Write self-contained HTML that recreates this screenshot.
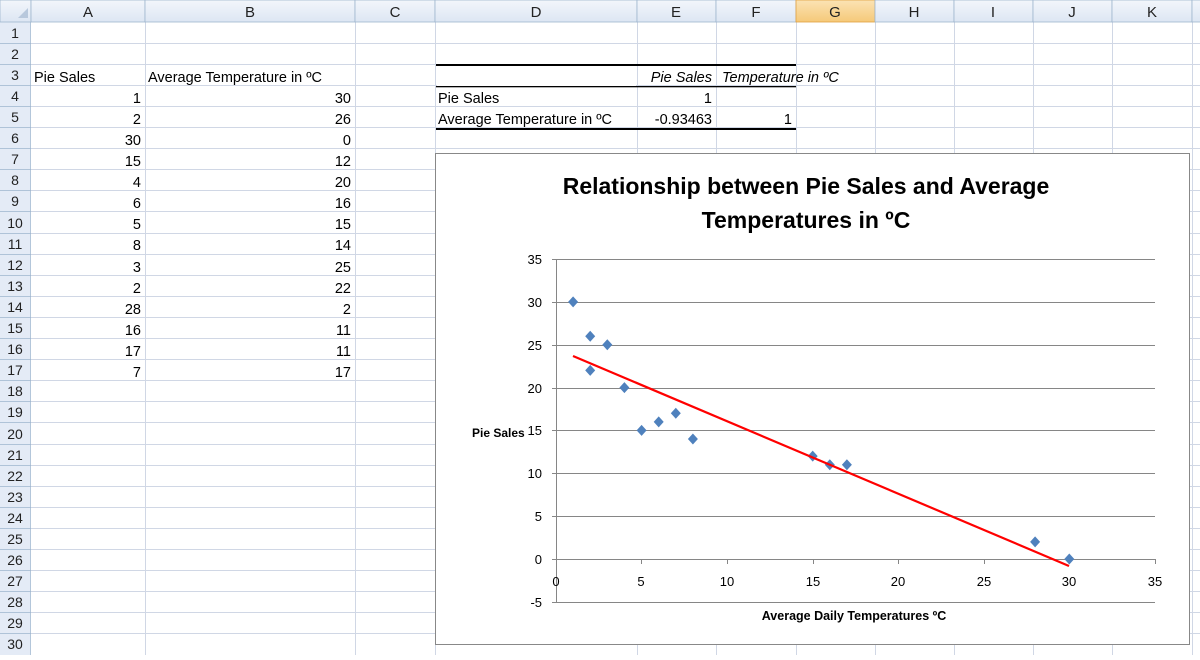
<!DOCTYPE html>
<html><head><meta charset="utf-8"><style>
html,body{margin:0;padding:0;background:#fff;}
svg text{font-family:"Liberation Sans",Arial,sans-serif;}
</style></head><body>
<svg width="1200" height="655" xmlns="http://www.w3.org/2000/svg">
<defs>
<linearGradient id="hg" x1="0" y1="0" x2="0" y2="1"><stop offset="0" stop-color="#f3f6fb"/><stop offset="1" stop-color="#dde6f3"/></linearGradient>
<linearGradient id="og" x1="0" y1="0" x2="0" y2="1"><stop offset="0" stop-color="#fbe3b4"/><stop offset="1" stop-color="#f5c979"/></linearGradient>
</defs>
<rect width="1200" height="655" fill="#fff"/>
<g stroke="#d0d7e5" stroke-width="1">
<line x1="145.5" y1="22" x2="145.5" y2="655"/><line x1="355.5" y1="22" x2="355.5" y2="655"/>
<line x1="435.5" y1="22" x2="435.5" y2="655"/><line x1="637.5" y1="22" x2="637.5" y2="655"/>
<line x1="716.5" y1="22" x2="716.5" y2="655"/><line x1="796.5" y1="22" x2="796.5" y2="655"/>
<line x1="875.5" y1="22" x2="875.5" y2="655"/><line x1="954.5" y1="22" x2="954.5" y2="655"/>
<line x1="1033.5" y1="22" x2="1033.5" y2="655"/><line x1="1112.5" y1="22" x2="1112.5" y2="655"/>
<line x1="1192.5" y1="22" x2="1192.5" y2="655"/>
<line x1="31" y1="43.5" x2="1200" y2="43.5"/><line x1="31" y1="64.5" x2="1200" y2="64.5"/>
<line x1="31" y1="85.5" x2="1200" y2="85.5"/><line x1="31" y1="106.5" x2="1200" y2="106.5"/>
<line x1="31" y1="127.5" x2="1200" y2="127.5"/><line x1="31" y1="148.5" x2="1200" y2="148.5"/>
<line x1="31" y1="169.5" x2="1200" y2="169.5"/><line x1="31" y1="190.5" x2="1200" y2="190.5"/>
<line x1="31" y1="211.5" x2="1200" y2="211.5"/><line x1="31" y1="233.5" x2="1200" y2="233.5"/>
<line x1="31" y1="254.5" x2="1200" y2="254.5"/><line x1="31" y1="275.5" x2="1200" y2="275.5"/>
<line x1="31" y1="296.5" x2="1200" y2="296.5"/><line x1="31" y1="317.5" x2="1200" y2="317.5"/>
<line x1="31" y1="338.5" x2="1200" y2="338.5"/><line x1="31" y1="359.5" x2="1200" y2="359.5"/>
<line x1="31" y1="380.5" x2="1200" y2="380.5"/><line x1="31" y1="401.5" x2="1200" y2="401.5"/>
<line x1="31" y1="422.5" x2="1200" y2="422.5"/><line x1="31" y1="444.5" x2="1200" y2="444.5"/>
<line x1="31" y1="465.5" x2="1200" y2="465.5"/><line x1="31" y1="486.5" x2="1200" y2="486.5"/>
<line x1="31" y1="507.5" x2="1200" y2="507.5"/><line x1="31" y1="528.5" x2="1200" y2="528.5"/>
<line x1="31" y1="549.5" x2="1200" y2="549.5"/><line x1="31" y1="570.5" x2="1200" y2="570.5"/>
<line x1="31" y1="591.5" x2="1200" y2="591.5"/><line x1="31" y1="612.5" x2="1200" y2="612.5"/>
<line x1="31" y1="633.5" x2="1200" y2="633.5"/>
</g>
<!-- row headers -->
<rect x="0" y="22" width="31" height="633" fill="url(#hg)"/>
<rect x="0" y="22" width="31" height="633" fill="#e4ebf6"/>
<g stroke="#9eb6ce" stroke-width="0.7">
<line x1="30.5" y1="22" x2="30.5" y2="655"/>
<line x1="0" y1="43.5" x2="31" y2="43.5"/><line x1="0" y1="64.5" x2="31" y2="64.5"/>
<line x1="0" y1="85.5" x2="31" y2="85.5"/><line x1="0" y1="106.5" x2="31" y2="106.5"/>
<line x1="0" y1="127.5" x2="31" y2="127.5"/><line x1="0" y1="148.5" x2="31" y2="148.5"/>
<line x1="0" y1="169.5" x2="31" y2="169.5"/><line x1="0" y1="190.5" x2="31" y2="190.5"/>
<line x1="0" y1="211.5" x2="31" y2="211.5"/><line x1="0" y1="233.5" x2="31" y2="233.5"/>
<line x1="0" y1="254.5" x2="31" y2="254.5"/><line x1="0" y1="275.5" x2="31" y2="275.5"/>
<line x1="0" y1="296.5" x2="31" y2="296.5"/><line x1="0" y1="317.5" x2="31" y2="317.5"/>
<line x1="0" y1="338.5" x2="31" y2="338.5"/><line x1="0" y1="359.5" x2="31" y2="359.5"/>
<line x1="0" y1="380.5" x2="31" y2="380.5"/><line x1="0" y1="401.5" x2="31" y2="401.5"/>
<line x1="0" y1="422.5" x2="31" y2="422.5"/><line x1="0" y1="444.5" x2="31" y2="444.5"/>
<line x1="0" y1="465.5" x2="31" y2="465.5"/><line x1="0" y1="486.5" x2="31" y2="486.5"/>
<line x1="0" y1="507.5" x2="31" y2="507.5"/><line x1="0" y1="528.5" x2="31" y2="528.5"/>
<line x1="0" y1="549.5" x2="31" y2="549.5"/><line x1="0" y1="570.5" x2="31" y2="570.5"/>
<line x1="0" y1="591.5" x2="31" y2="591.5"/><line x1="0" y1="612.5" x2="31" y2="612.5"/>
<line x1="0" y1="633.5" x2="31" y2="633.5"/>
</g>
<g font-size="14" fill="#222" text-anchor="middle">
<text x="15" y="38">1</text><text x="15" y="59">2</text><text x="15" y="80">3</text>
<text x="15" y="101">4</text><text x="15" y="122">5</text><text x="15" y="143">6</text>
<text x="15" y="164">7</text><text x="15" y="185">8</text><text x="15" y="206">9</text>
<text x="15" y="228">10</text><text x="15" y="249">11</text><text x="15" y="270">12</text>
<text x="15" y="291">13</text><text x="15" y="312">14</text><text x="15" y="333">15</text>
<text x="15" y="354">16</text><text x="15" y="375">17</text><text x="15" y="396">18</text>
<text x="15" y="417">19</text><text x="15" y="439">20</text><text x="15" y="460">21</text>
<text x="15" y="481">22</text><text x="15" y="502">23</text><text x="15" y="523">24</text>
<text x="15" y="544">25</text><text x="15" y="565">26</text><text x="15" y="586">27</text>
<text x="15" y="607">28</text><text x="15" y="628">29</text><text x="15" y="649">30</text>
</g>
<!-- column headers -->
<g stroke="#9eb6ce" stroke-width="0.8">
<rect x="0" y="0" width="31" height="22" fill="url(#hg)"/>
<rect x="31" y="0" width="114" height="22" fill="url(#hg)"/>
<rect x="145" y="0" width="210" height="22" fill="url(#hg)"/>
<rect x="355" y="0" width="80" height="22" fill="url(#hg)"/>
<rect x="435" y="0" width="202" height="22" fill="url(#hg)"/>
<rect x="637" y="0" width="79" height="22" fill="url(#hg)"/>
<rect x="716" y="0" width="80" height="22" fill="url(#hg)"/>
<rect x="796" y="0" width="79" height="22" fill="url(#og)" stroke="#e0a040"/>
<rect x="875" y="0" width="79" height="22" fill="url(#hg)"/>
<rect x="954" y="0" width="79" height="22" fill="url(#hg)"/>
<rect x="1033" y="0" width="79" height="22" fill="url(#hg)"/>
<rect x="1112" y="0" width="80" height="22" fill="url(#hg)"/>
<rect x="1192" y="0" width="10" height="22" fill="url(#hg)"/>
</g>
<polygon points="18,18 28,18 28,8" fill="#b8c8dc"/>
<g font-size="15" fill="#222" text-anchor="middle">
<text x="88" y="17">A</text><text x="250" y="17">B</text><text x="395" y="17">C</text>
<text x="536" y="17">D</text><text x="676" y="17">E</text><text x="756" y="17">F</text>
<text x="835" y="17">G</text><text x="914" y="17">H</text><text x="993" y="17">I</text>
<text x="1072" y="17">J</text><text x="1152" y="17">K</text>
</g>
<!-- data -->
<g font-size="14.5" fill="#000">
<text x="34" y="82">Pie Sales</text>
<text x="148" y="82">Average Temperature in ºC</text>
</g>
<g font-size="14.5" fill="#000" text-anchor="end">
<text x="141" y="103">1</text><text x="351" y="103">30</text>
<text x="141" y="124">2</text><text x="351" y="124">26</text>
<text x="141" y="145">30</text><text x="351" y="145">0</text>
<text x="141" y="166">15</text><text x="351" y="166">12</text>
<text x="141" y="187">4</text><text x="351" y="187">20</text>
<text x="141" y="208">6</text><text x="351" y="208">16</text>
<text x="141" y="229">5</text><text x="351" y="229">15</text>
<text x="141" y="250">8</text><text x="351" y="250">14</text>
<text x="141" y="272">3</text><text x="351" y="272">25</text>
<text x="141" y="293">2</text><text x="351" y="293">22</text>
<text x="141" y="314">28</text><text x="351" y="314">2</text>
<text x="141" y="335">16</text><text x="351" y="335">11</text>
<text x="141" y="356">17</text><text x="351" y="356">11</text>
<text x="141" y="377">7</text><text x="351" y="377">17</text>
</g>
<!-- correlation table -->
<rect x="436" y="64" width="360" height="2" fill="#000"/>
<rect x="436" y="86" width="360" height="1.3" fill="#000"/>
<rect x="436" y="128" width="360" height="2" fill="#000"/>
<rect x="437" y="67" width="199" height="19" fill="#fff"/>
<g font-size="14.5" fill="#000">
<text x="712" y="82" text-anchor="end" font-style="italic">Pie Sales</text>
<text x="722" y="82" font-style="italic">Temperature in ºC</text>
<text x="438" y="103">Pie Sales</text>
<text x="438" y="124">Average Temperature in ºC</text>
<text x="712" y="103" text-anchor="end">1</text>
<text x="712" y="124" text-anchor="end">-0.93463</text>
<text x="792" y="124" text-anchor="end">1</text>
</g>
<!-- chart -->
<rect x="435.5" y="153.5" width="754" height="491" fill="#fff" stroke="#888" stroke-width="1"/>
<text x="806" y="194" font-size="23" font-weight="bold" text-anchor="middle" fill="#000">Relationship between Pie Sales and Average</text>
<text x="806" y="228" font-size="23" font-weight="bold" text-anchor="middle" fill="#000">Temperatures in ºC</text>
<g stroke="#868686" stroke-width="1">
<line x1="552" y1="259.5" x2="1155" y2="259.5"/>
<line x1="552" y1="302.5" x2="1155" y2="302.5"/>
<line x1="552" y1="345.5" x2="1155" y2="345.5"/>
<line x1="552" y1="388.5" x2="1155" y2="388.5"/>
<line x1="552" y1="430.5" x2="1155" y2="430.5"/>
<line x1="552" y1="473.5" x2="1155" y2="473.5"/>
<line x1="552" y1="516.5" x2="1155" y2="516.5"/>
<line x1="552" y1="559.5" x2="1155" y2="559.5"/>
<line x1="552" y1="602.5" x2="1155" y2="602.5"/>
<line x1="556.5" y1="259" x2="556.5" y2="602"/>
<line x1="641.5" y1="559" x2="641.5" y2="564"/><line x1="727.5" y1="559" x2="727.5" y2="564"/>
<line x1="813.5" y1="559" x2="813.5" y2="564"/><line x1="898.5" y1="559" x2="898.5" y2="564"/>
<line x1="984.5" y1="559" x2="984.5" y2="564"/><line x1="1069.5" y1="559" x2="1069.5" y2="564"/>
<line x1="1155.5" y1="559" x2="1155.5" y2="564"/>
</g>
<g font-size="13" fill="#000" text-anchor="end">
<text x="542" y="264">35</text><text x="542" y="307">30</text><text x="542" y="350">25</text>
<text x="542" y="393">20</text><text x="542" y="435">15</text><text x="542" y="478">10</text>
<text x="542" y="521">5</text><text x="542" y="564">0</text><text x="542" y="607">-5</text>
</g>
<g font-size="13" fill="#000" text-anchor="middle">
<text x="556" y="586">0</text><text x="641" y="586">5</text><text x="727" y="586">10</text>
<text x="813" y="586">15</text><text x="898" y="586">20</text><text x="984" y="586">25</text>
<text x="1069" y="586">30</text><text x="1155" y="586">35</text>
</g>
<text x="472" y="437" font-size="12" font-weight="bold" fill="#000">Pie Sales</text>
<text x="854" y="620" font-size="12.5" font-weight="bold" text-anchor="middle" fill="#000">Average Daily  Temperatures ºC</text>
<g fill="#4f81bd">
<path d="M0,-5.5L5,0 0,5.5 -5,0Z" transform="translate(573.1,301.9)"/>
<path d="M0,-5.5L5,0 0,5.5 -5,0Z" transform="translate(590.2,336.2)"/>
<path d="M0,-5.5L5,0 0,5.5 -5,0Z" transform="translate(1069.3,559)"/>
<path d="M0,-5.5L5,0 0,5.5 -5,0Z" transform="translate(812.7,456.1)"/>
<path d="M0,-5.5L5,0 0,5.5 -5,0Z" transform="translate(624.4,387.6)"/>
<path d="M0,-5.5L5,0 0,5.5 -5,0Z" transform="translate(658.7,421.9)"/>
<path d="M0,-5.5L5,0 0,5.5 -5,0Z" transform="translate(641.6,430.4)"/>
<path d="M0,-5.5L5,0 0,5.5 -5,0Z" transform="translate(692.9,439)"/>
<path d="M0,-5.5L5,0 0,5.5 -5,0Z" transform="translate(607.3,344.7)"/>
<path d="M0,-5.5L5,0 0,5.5 -5,0Z" transform="translate(590.2,370.4)"/>
<path d="M0,-5.5L5,0 0,5.5 -5,0Z" transform="translate(1035.1,541.9)"/>
<path d="M0,-5.5L5,0 0,5.5 -5,0Z" transform="translate(829.8,464.7)"/>
<path d="M0,-5.5L5,0 0,5.5 -5,0Z" transform="translate(846.9,464.7)"/>
<path d="M0,-5.5L5,0 0,5.5 -5,0Z" transform="translate(675.8,413.3)"/>
</g>
<line x1="573" y1="356" x2="1069" y2="566" stroke="#ff0000" stroke-width="2.2"/>
</svg>
</body></html>
